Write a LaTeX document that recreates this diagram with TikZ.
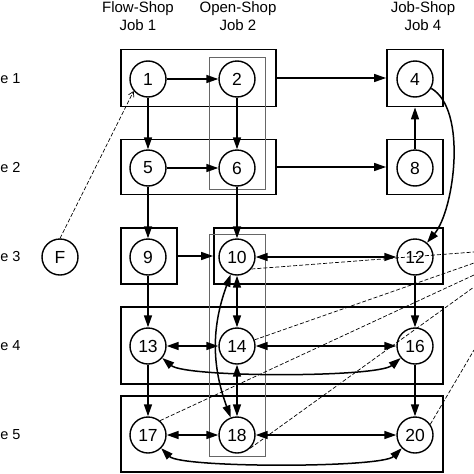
\documentclass[tikz,border=0pt]{standalone}
\usepackage{fontspec}
\setmainfont{Liberation Sans}
\usetikzlibrary{arrows.meta, positioning}

\begin{document}
\begin{tikzpicture}[x=1pt,y=1pt,node distance=89pt,
 thick,main node/.style={circle,draw,line width=1.4pt,minimum size=36pt,inner sep=0pt,font=\fontsize{17.5}{17.5}\selectfont},
 machine/.style={draw,line width=1.8pt,inner sep=0pt},
 group/.style={draw=black!60,line width=0.9pt,inner sep=0pt},
 arc/.style={line width=1.5pt,-{Triangle[length=12pt,width=8pt]}},
 twoway/.style={line width=1.5pt,{Triangle[length=12pt,width=8pt]}-{Triangle[length=12pt,width=8pt]}},
 link/.style={line width=0.7pt,dash pattern=on 4pt off 2pt},
 head/.style={align=center,font=\fontsize{15}{18}\selectfont},
 lane/.style={anchor=west,inner sep=0pt,font=\fontsize{14.5}{14.5}\selectfont}]

  \useasboundingbox (0,0) rectangle (474,-474);
  \clip (0,0) rectangle (474,-474);

  % machine boxes and open-shop groups
  \node[machine,minimum width=155pt,minimum height=57pt] (m1) at (198.5,-78) {};
  \node[machine,minimum width=56pt,minimum height=57pt] (m4) at (415,-78) {};
  \node[machine,minimum width=155pt,minimum height=55pt] (m2) at (198.5,-167) {};
  \node[machine,minimum width=56pt,minimum height=55pt] (m8) at (415,-167) {};
  \node[machine,minimum width=56pt,minimum height=56pt] (m9) at (149,-256) {};
  \node[machine,minimum width=229pt,minimum height=56pt] (m10) at (328.5,-256) {};
  \node[machine,minimum width=322pt,minimum height=77pt] (m13) at (282,-345.5) {};
  \node[machine,minimum width=322pt,minimum height=76pt] (m17) at (282,-434) {};
  \node[group,minimum width=56pt,minimum height=132pt] (g2) at (237,-123) {};
  \node[group,minimum width=56pt,minimum height=222pt] (g10) at (237,-345) {};

  % headers and machine labels
  \node[head] (h1) at (138,-16) {Flow-Shop\\Job 1};
  \node[head] (h2) at (238,-16) {Open-Shop\\Job 2};
  \node[head] (h4) at (423,-16) {Job-Shop\\Job 4};
  \node[lane] (l1) at (0,-79) {e 1};
  \node[lane] (l2) at (0,-168) {e 2};
  \node[lane] (l3) at (0,-257) {e 3};
  \node[lane] (l4) at (0,-346) {e 4};
  \node[lane] (l5) at (0,-435) {e 5};

  \node[main node] (1) at (148,-79) {1};
  \node[main node] (2) [right of=1] {2};
  \node[main node] (4) [right of=2, xshift=89pt] {4};
  \node[main node] (5) [below of=1] {5};
  \node[main node] (6) [below of=2] {6};
  \node[main node] (8) [below of=4] {8};
  \node[main node] (9) [below of=5] {9};
  \node[main node] (10) [below of=6] {10};
  \node[main node] (12) [below of=8] {12};
  \node[main node] (F) [left of=9, xshift=1pt] {F};
  \node[main node] (13) [below of=9] {13};
  \node[main node] (14) [below of=10] {14};
  \node[main node] (16) [below of=12] {16};
  \node[main node] (17) [below of=13] {17};
  \node[main node] (18) [below of=14] {18};
  \node[main node] (20) [below of=16] {20};

  \coordinate (r10) at (474,-252);
  \coordinate (r14) at (474,-263);
  \coordinate (r17) at (474,-275);
  \coordinate (r18) at (474,-287);
  \coordinate (r20) at (474,-350);

  \foreach \s/\t in {1/2, 1/5, 2/6, 5/6, 5/9, 6/10, m1/m4, m2/m8, 8/m4, m9/m10, 9/13, 13/17, 12/16, 16/20} {
   \path (\s) edge[arc] (\t);}
  \foreach \s/\t in {10/12, 10/14, 14/18, 13/14, 14/16, 17/18, 18/20} {
   \path (\s) edge[twoway] (\t);}

  \draw[arc] (4) to[out=-30,in=50,looseness=0.7] (12);
  \draw[twoway] (10) to[bend right=20] (18);
  \draw[twoway] (13) to[out=-40,in=-140,looseness=0.33] (16);
  \draw[twoway] (17) to[out=-45,in=-135,looseness=0.3] (20);

  \draw[link,-{Straight Barb[length=5pt,width=6pt]}] (F.north) -- (1.220);
  \draw[link] (10.-40) -- (r10);
  \draw[link] (14) -- (r14);
  \draw[link] (17.50) -- (r17);
  \draw[link] (18.-45) -- (r18);
  \draw[link] (20.35) -- (r20);
\end{tikzpicture}
\end{document}
